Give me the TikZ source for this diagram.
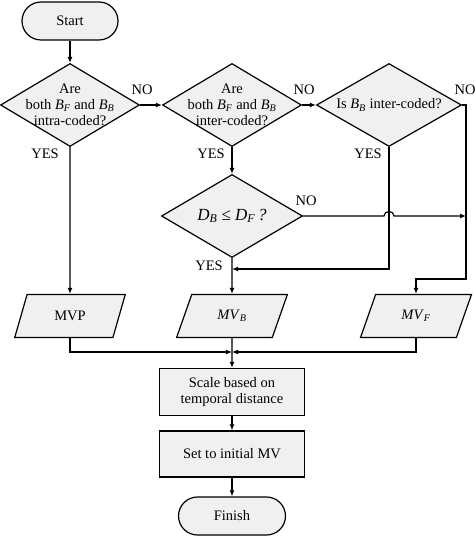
\documentclass[tikz,border=0pt]{standalone}
\usepackage{fontspec}
\setmainfont{Liberation Serif}
\usepackage{tikz}
\usetikzlibrary{shapes.geometric,arrows.meta}
\definecolor{boxgray}{HTML}{F0F0F0}
\newcommand{\vsub}[2]{\textit{#1}\textsubscript{\textit{#2}}}

\tikzset{
  flow/.style={draw, line width=1.2pt, fill=boxgray},
  termbox/.style={flow, rectangle, rounded corners=19pt, minimum height=38pt, inner sep=0pt},
  decision/.style={flow, diamond, minimum width=139pt, minimum height=83pt, inner sep=0pt},
  iobox/.style={flow, trapezium, trapezium left angle=65, trapezium right angle=115,
                trapezium stretches=true, minimum width=111pt, minimum height=43pt, inner sep=0pt},
  procbox/.style={flow, rectangle, minimum width=145pt, minimum height=47pt, align=center, inner sep=0pt},
  qtext/.style={align=center, inner sep=0pt},
  tag/.style={inner sep=0pt},
  line/.style={line width=1.2pt, -{Latex[length=6pt,width=5pt]}},
}

\begin{document}
\begin{tikzpicture}[x=1pt, y=-1pt, font=\fontsize{14.5}{16}\selectfont]
\useasboundingbox (0,0) rectangle (474,537);

% terminals and boxes
\node[termbox, minimum width=96pt] (start) at (70,21) {Start};
\node[decision] (d1) at (70,105) {};
\node[qtext] (q1) at (70,105) {Are\\both \vsub{B}{F} and \vsub{B}{B}\\intra-coded?};
\node[decision] (d2) at (232,105) {};
\node[qtext] (q2) at (232,105) {Are\\both \vsub{B}{F} and \vsub{B}{B}\\inter-coded?};
\node[decision, minimum width=145pt] (d3) at (389,105) {};
\node[qtext] (q3) at (389,105) {Is \vsub{B}{B} inter-coded?};
\node[decision, minimum width=141pt] (d4) at (232,216) {};
\node[qtext, font=\fontsize{17}{19}\selectfont] (q4) at (232,216) {\vsub{D}{B} ≤ \vsub{D}{F}\,\textit{?}};

\node[iobox] (mvp) at (70,316) {MVP};
\node[iobox] (mvb) at (232,316) {\vsub{MV}{B}};
\node[iobox] (mvf) at (416,316) {\vsub{MV}{F}};

\node[procbox] (scale) at (232,392) {Scale based on\\temporal distance};
\node[procbox, minimum height=46pt] (set) at (232,454) {Set to initial MV};
\node[termbox, minimum width=107pt] (finish) at (232,516) {Finish};

% labels
\node[tag] (no1) at (142,90) {NO};
\node[tag] (no2) at (304,90) {NO};
\node[tag] (no3) at (465,90) {NO};
\node[tag] (no4) at (306,201) {NO};
\node[tag] (yes1) at (45,154) {YES};
\node[tag] (yes2) at (211,154) {YES};
\node[tag] (yes3) at (368,154) {YES};
\node[tag] (yes4) at (209,266) {YES};

% helper points
\coordinate (fbend) at (466,279);
\coordinate (fjoin) at (466,216);
\coordinate (bjoin) at (232,269);
\coordinate (hopa) at (384,216);
\coordinate (hopb) at (394,216);
\coordinate (mjoin) at (232,352);

% connectors
\draw[line] (start) -- (d1);
\draw[line] (d1.east) -- (d2.west);
\draw[line] (d2.east) -- (d3.west);
\draw[line] (d2.south) -- (d4.north);
\draw[line] (d1.south) -- (mvp.north);
\draw[line] (d4.south) -- (mvb.north);
\draw[line] (d3.south) |- (bjoin);
\draw[line] (d3.east) -| (fbend) -| (mvf.north);
\draw[line] (d4.east) -- (hopa) .. controls (384,210) and (394,210) .. (hopb) -- (fjoin);
\draw[line] (mvp.south) |- (mjoin);
\draw[line] (mvf.south) |- (mjoin);
\draw[line] (mvb.south) -- (scale.north);
\draw[line] (scale) -- (set);
\draw[line] (set) -- (finish);
\end{tikzpicture}
\end{document}
